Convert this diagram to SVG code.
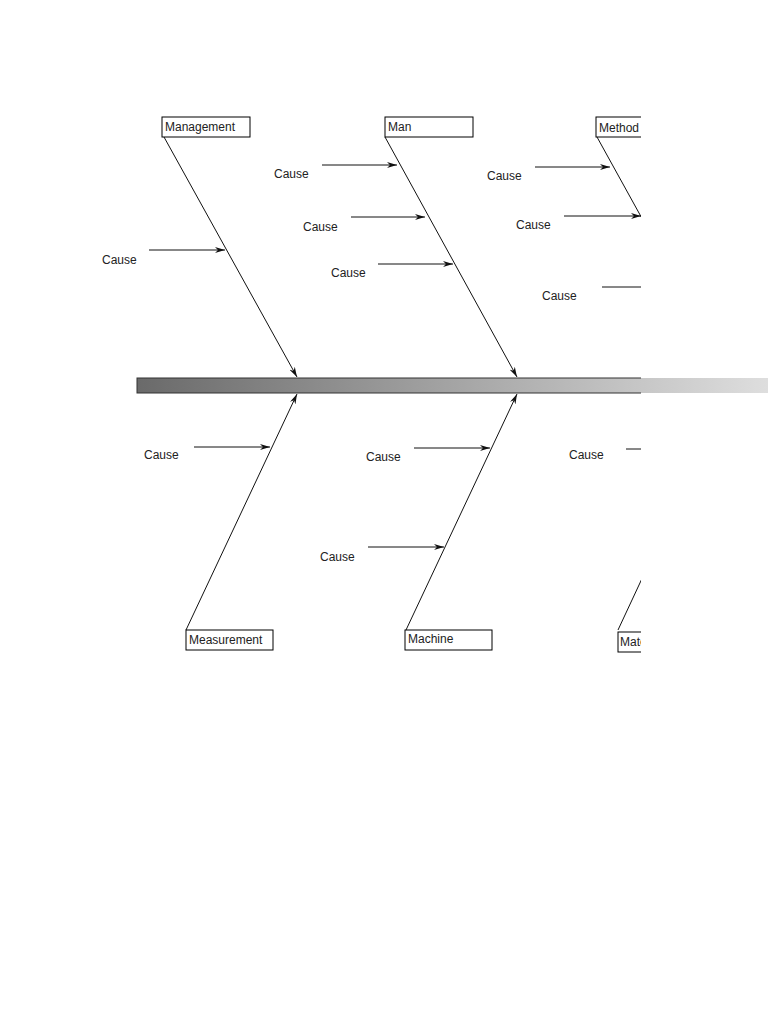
<svg xmlns="http://www.w3.org/2000/svg" width="768" height="1024" viewBox="0 0 768 1024">
<style>
.t{font-family:"Liberation Sans",Arial,sans-serif;font-size:12px;fill:#222}
.b{fill:#fff;stroke:#000;stroke-width:1}
.l{stroke:#111;stroke-width:1;fill:none}
</style>
<defs>
<marker id="a" viewBox="0 0 10 6" refX="10" refY="3" markerWidth="10" markerHeight="6" markerUnits="userSpaceOnUse" orient="auto"><path d="M0,0 L10,3 L0,6 L3,3 Z" fill="#111"/></marker>
<linearGradient id="g" x1="0" x2="1" y1="0" y2="0"><stop offset="0" stop-color="#6a6a6a"/><stop offset="1" stop-color="#dedede"/></linearGradient>
<clipPath id="c"><rect x="0" y="0" width="641" height="1024"/></clipPath>
</defs>
<rect width="768" height="1024" fill="#fff"/>
<rect x="137" y="378" width="631" height="15" fill="url(#g)"/>
<g clip-path="url(#c)">
<rect x="137" y="378" width="631" height="15" fill="none" stroke="#333" stroke-width="1"/>
<g id="connectors">
<line class="l" x1="164" y1="137" x2="297" y2="377" marker-end="url(#a)"/>
<line class="l" x1="385" y1="137" x2="517" y2="377" marker-end="url(#a)"/>
<line class="l" x1="597" y1="137" x2="660" y2="251"/>
<line class="l" x1="186" y1="630" x2="297" y2="394" marker-end="url(#a)"/>
<line class="l" x1="406" y1="630" x2="517" y2="394" marker-end="url(#a)"/>
<line class="l" x1="618" y1="630" x2="660" y2="540"/>
<line class="l" x1="149" y1="250" x2="225" y2="250" marker-end="url(#a)"/>
<line class="l" x1="322" y1="165" x2="397" y2="165" marker-end="url(#a)"/>
<line class="l" x1="351" y1="217" x2="425" y2="217" marker-end="url(#a)"/>
<line class="l" x1="378" y1="264" x2="453" y2="264" marker-end="url(#a)"/>
<line class="l" x1="535" y1="167" x2="610" y2="167" marker-end="url(#a)"/>
<line class="l" x1="564" y1="216" x2="641" y2="216" marker-end="url(#a)"/>
<line class="l" x1="602" y1="287" x2="660" y2="287"/>
<line class="l" x1="194" y1="447" x2="270" y2="447" marker-end="url(#a)"/>
<line class="l" x1="414" y1="448" x2="490" y2="448" marker-end="url(#a)"/>
<line class="l" x1="368" y1="547" x2="444" y2="547" marker-end="url(#a)"/>
<line class="l" x1="626" y1="449" x2="660" y2="449"/>
</g>
<g id="management"><rect class="b" x="162" y="117" width="88" height="20"/><text class="t" x="165" y="131">Management</text></g>
<g id="man"><rect class="b" x="385" y="117" width="88" height="20"/><text class="t" x="388" y="131">Man</text></g>
<g id="method"><rect class="b" x="596" y="117" width="88" height="20"/><text class="t" x="599" y="132">Method</text></g>
<g id="measurement"><rect class="b" x="186" y="630" width="87" height="20"/><text class="t" x="189" y="644">Measurement</text></g>
<g id="machine"><rect class="b" x="405" y="630" width="87" height="20"/><text class="t" x="408" y="643">Machine</text></g>
<g id="material"><rect class="b" x="618" y="632" width="87" height="20"/><text class="t" x="620" y="646">Material</text></g>
<g id="causes">
<text class="t" x="102" y="264">Cause</text>
<text class="t" x="274" y="178">Cause</text>
<text class="t" x="303" y="231">Cause</text>
<text class="t" x="331" y="277">Cause</text>
<text class="t" x="487" y="180">Cause</text>
<text class="t" x="516" y="229">Cause</text>
<text class="t" x="542" y="300">Cause</text>
<text class="t" x="144" y="459">Cause</text>
<text class="t" x="366" y="461">Cause</text>
<text class="t" x="320" y="561">Cause</text>
<text class="t" x="569" y="459">Cause</text>
</g>
</g>
</svg>
